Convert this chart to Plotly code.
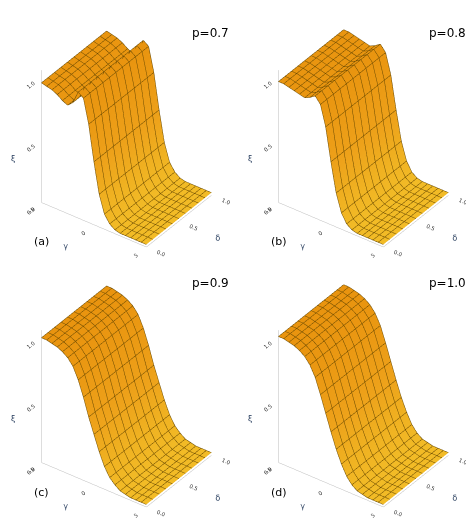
import plotly.graph_objects as go

gamma = [-5,-4.5,-4,-3.5,-3,-2.5,-2,-1.5,-1,-0.5,0,0.5,1,1.5,2,2.5,3,3.5,4,4.5,5]
delta = [0,0.1,0.2,0.3,0.4,0.5,0.6,0.7,0.8,0.9,1.0]
xi_p07 = [0.95,0.94,0.93,0.91,0.88,0.86,0.90,1.0,0.97,0.78,0.50,0.26,0.12,0.06,0.03,0.02,0.02,0.02,0.02,0.02,0.02]
xi_p08 = [0.96,0.96,0.95,0.94,0.93,0.92,0.94,0.97,0.92,0.76,0.50,0.27,0.13,0.06,0.03,0.02,0.02,0.02,0.02,0.02,0.02]
xi_p09 = [0.99,0.99,0.98,0.97,0.95,0.92,0.87,0.78,0.66,0.52,0.40,0.28,0.18,0.11,0.07,0.04,0.03,0.02,0.02,0.02,0.02]
xi_p10 = [1.0,1.0,0.99,0.98,0.96,0.93,0.88,0.80,0.68,0.55,0.42,0.30,0.20,0.12,0.07,0.04,0.03,0.02,0.02,0.02,0.02]
profiles = [xi_p07, xi_p08, xi_p09, xi_p10]
p_labels = ["p=0.7","p=0.8","p=0.9","p=1.0"]
panel_labels = ["(a)","(b)","(c)","(d)"]

fig = go.Figure()
domains = [([0,0.5],[0.5,1]),([0.5,1],[0.5,1]),([0,0.5],[0,0.5]),([0.5,1],[0,0.5])]
cs = [[0,"#ffc629"],[0.5,"#f9a81a"],[1,"#f59c10"]]
for i,prof in enumerate(profiles):
    z = [[prof[j] for j in range(len(gamma))] for _ in delta]
    sc = "scene" if i==0 else f"scene{i+1}"
    fig.add_trace(go.Surface(x=gamma, y=delta, z=z, colorscale=cs, showscale=False, scene=sc,
        cmin=0, cmax=1,
        lighting=dict(ambient=0.95, diffuse=0.3, specular=0.1, roughness=0.9),
        lightposition=dict(x=1000, y=-3000, z=4000),
        contours=dict(x=dict(show=True, start=-5, end=5, size=0.5, color="#6a4a00", width=1),
                      y=dict(show=True, start=0, end=1, size=0.1, color="#6a4a00", width=1))))
    ax = dict(showbackground=False, showgrid=False, linecolor="#bbb", showline=True,
              tickfont=dict(size=8, family="DejaVu Sans", color="#333"), showspikes=False)
    fig.layout[sc] = dict(domain=dict(x=domains[i][0], y=domains[i][1]),
        xaxis=dict(ax, title=dict(text="γ", font=dict(size=8)), tickvals=[-5,0,5], range=[-5,5]),
        yaxis=dict(ax, title=dict(text="δ", font=dict(size=8)), tickvals=[0,0.5,1], tickformat=".1f", range=[0,1]),
        zaxis=dict(ax, title=dict(text="ξ", font=dict(size=8)), tickvals=[0,0.5,1], tickformat=".1f", range=[0,1.05]),
        aspectmode="manual", aspectratio=dict(x=1, y=0.85, z=1.25),
        camera=dict(eye=dict(x=0.95, y=-1.3, z=1.1), center=dict(x=0, y=0, z=-0.05),
                    projection=dict(type="orthographic")))
    dx, dy = domains[i][0][0], domains[i][1][0]
    fig.add_annotation(x=dx+0.47, y=dy+0.47, xref="paper", yref="paper", text=p_labels[i],
                       showarrow=False, font=dict(size=12, color="black"), xanchor="right")
    fig.add_annotation(x=dx+0.05, y=dy+0.05, xref="paper", yref="paper", text=panel_labels[i],
                       showarrow=False, font=dict(size=11, color="black"), xanchor="left")

fig.update_layout(width=474, height=519, margin=dict(l=0,r=0,t=0,b=0),
                  paper_bgcolor="white", font=dict(family="DejaVu Sans"))
fig.write_html("out.html")
